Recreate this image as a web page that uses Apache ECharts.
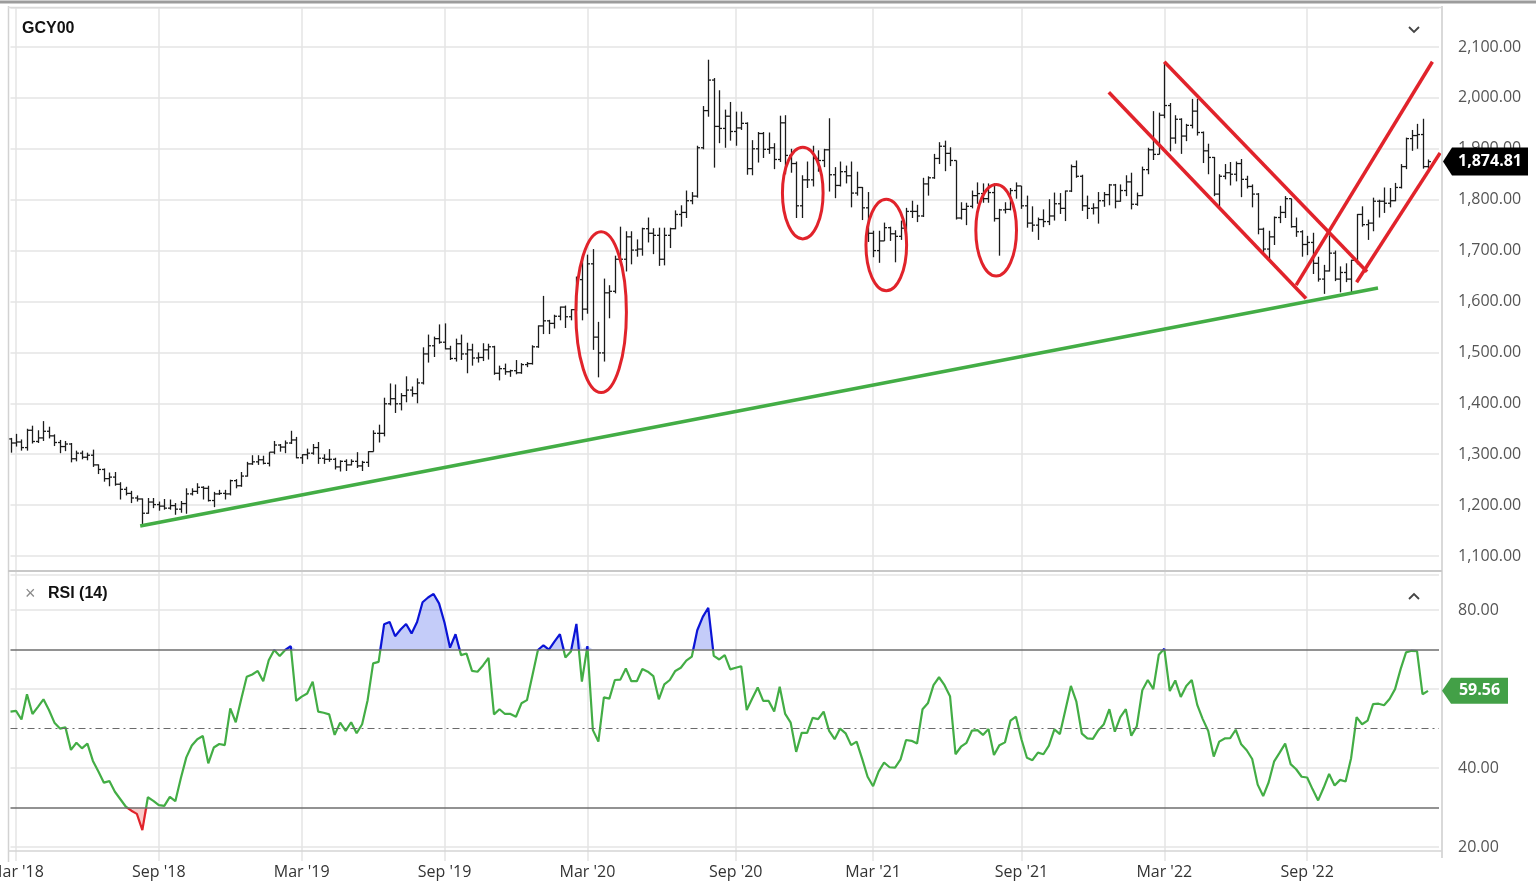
<!DOCTYPE html>
<html>
<head>
<meta charset="utf-8">
<title>GCY00 weekly with RSI (14)</title>
<script src="https://cdn.jsdelivr.net/npm/echarts@6/dist/echarts.min.js"></script>
<style>
  html, body { margin: 0; padding: 0; background: #fff; }
  #chart { width: 1536px; height: 889px; }
</style>
</head>
<body>
<div id="chart"></div>
<script>
// weekly bars, the first one is the week of 26 Feb 2018
const firstWeek = Date.UTC(2018, 1, 26);
const slotCount = 261; // 259 weeks + 2 empty slots on the right
const tickMonths = [2, 8]; // Mar, Sep
const monthNames = ['Jan', 'Feb', 'Mar', 'Apr', 'May', 'Jun', 'Jul', 'Aug', 'Sep', 'Oct', 'Nov', 'Dec'];

const opens = [
  1330, 1322, 1324, 1313, 1347, 1325, 1332, 1345, 1336, 1323,
  1315, 1320, 1291, 1302, 1294, 1298, 1279, 1270, 1252, 1255,
  1241, 1231, 1223, 1214, 1212, 1184, 1206, 1201, 1198, 1194,
  1199, 1192, 1203, 1222, 1227, 1235, 1233, 1209, 1222, 1223,
  1222, 1248, 1238, 1257, 1281, 1285, 1289, 1282, 1304, 1318,
  1314, 1322, 1328, 1293, 1299, 1302, 1313, 1292, 1290, 1290,
  1275, 1286, 1279, 1286, 1277, 1284, 1305, 1341, 1341, 1399,
  1409, 1399, 1415, 1426, 1419, 1440, 1497, 1513, 1527, 1520,
  1507, 1488, 1517, 1497, 1505, 1489, 1490, 1505, 1511, 1459,
  1468, 1462, 1464, 1460, 1476, 1478, 1511, 1552, 1562, 1557,
  1571, 1589, 1570, 1584, 1643, 1585, 1674, 1530, 1499, 1617,
  1620, 1683, 1683, 1727, 1701, 1703, 1743, 1734, 1730, 1683,
  1730, 1743, 1771, 1775, 1798, 1807, 1902, 1975, 2035, 1944,
  1940, 1964, 1934, 1941, 1950, 1861, 1900, 1930, 1899, 1902,
  1879, 1951, 1887, 1871, 1788, 1839, 1839, 1881, 1877, 1898,
  1849, 1828, 1855, 1847, 1813, 1824, 1784, 1734, 1700, 1719,
  1745, 1733, 1728, 1744, 1777, 1777, 1768, 1831, 1843, 1881,
  1905, 1891, 1877, 1764, 1781, 1787, 1808, 1812, 1802, 1814,
  1763, 1780, 1781, 1818, 1827, 1788, 1754, 1750, 1761, 1757,
  1768, 1792, 1783, 1817, 1865, 1846, 1788, 1783, 1784, 1798,
  1810, 1829, 1797, 1818, 1835, 1791, 1808, 1859, 1898, 1889,
  1966, 1985, 1921, 1958, 1925, 1946, 1974, 1932, 1896, 1883,
  1811, 1846, 1853, 1850, 1871, 1840, 1826, 1811, 1742, 1703,
  1727, 1765, 1775, 1802, 1747, 1737, 1712, 1716, 1675, 1644,
  1660, 1695, 1644, 1657, 1644, 1681, 1771, 1751, 1754, 1797,
  1797, 1793, 1798, 1824, 1865, 1920, 1926, 1928, 1865
];
const highs = [
  1332, 1340, 1329, 1350, 1356, 1347, 1365, 1354, 1339, 1328,
  1326, 1322, 1307, 1307, 1303, 1309, 1280, 1272, 1264, 1265,
  1245, 1236, 1228, 1219, 1213, 1214, 1214, 1207, 1212, 1211,
  1204, 1208, 1233, 1233, 1243, 1237, 1238, 1226, 1230, 1230,
  1250, 1251, 1265, 1285, 1298, 1298, 1297, 1304, 1326, 1320,
  1327, 1346, 1334, 1300, 1311, 1320, 1324, 1300, 1310, 1293,
  1288, 1290, 1290, 1304, 1287, 1306, 1347, 1358, 1411, 1439,
  1437, 1420, 1453, 1433, 1449, 1510, 1535, 1531, 1555, 1557,
  1513, 1527, 1535, 1519, 1517, 1500, 1518, 1517, 1513, 1474,
  1478, 1466, 1485, 1479, 1481, 1514, 1553, 1611, 1564, 1574,
  1590, 1592, 1585, 1649, 1689, 1692, 1703, 1560, 1645, 1632,
  1690, 1747, 1738, 1738, 1722, 1745, 1765, 1744, 1745, 1745,
  1745, 1779, 1789, 1818, 1815, 1906, 1984, 2075, 2039, 2015,
  1977, 1992, 1973, 1973, 1952, 1917, 1933, 1933, 1932, 1911,
  1965, 1966, 1900, 1875, 1848, 1875, 1906, 1897, 1900, 1960,
  1864, 1875, 1867, 1875, 1855, 1825, 1815, 1739, 1739, 1755,
  1747, 1740, 1759, 1784, 1798, 1790, 1843, 1846, 1890, 1913,
  1916, 1903, 1877, 1795, 1794, 1818, 1834, 1832, 1832, 1832,
  1782, 1795, 1823, 1834, 1827, 1808, 1787, 1765, 1781, 1801,
  1814, 1813, 1818, 1869, 1877, 1849, 1808, 1793, 1815, 1815,
  1831, 1831, 1830, 1848, 1853, 1814, 1865, 1902, 1974, 1971,
  2070, 1990, 1966, 1960, 1949, 1998, 1998, 1934, 1910, 1884,
  1850, 1870, 1874, 1875, 1880, 1847, 1830, 1813, 1745, 1739,
  1767, 1788, 1807, 1802, 1765, 1740, 1729, 1735, 1688, 1672,
  1730, 1700, 1669, 1675, 1682, 1772, 1787, 1761, 1804, 1800,
  1824, 1823, 1833, 1870, 1922, 1937, 1949, 1959, 1879
];
const lows = [
  1303, 1315, 1307, 1307, 1321, 1322, 1326, 1331, 1316, 1302,
  1306, 1284, 1286, 1290, 1288, 1275, 1261, 1246, 1237, 1238,
  1211, 1219, 1204, 1207, 1160, 1183, 1194, 1189, 1191, 1191,
  1181, 1185, 1183, 1219, 1222, 1211, 1207, 1196, 1220, 1211,
  1219, 1233, 1236, 1256, 1279, 1279, 1280, 1276, 1300, 1305,
  1302, 1320, 1292, 1281, 1290, 1299, 1281, 1281, 1285, 1270,
  1266, 1267, 1278, 1273, 1267, 1275, 1305, 1323, 1335, 1396,
  1381, 1386, 1402, 1413, 1400, 1437, 1480, 1491, 1517, 1506,
  1485, 1482, 1485, 1459, 1474, 1480, 1483, 1486, 1456, 1445,
  1456, 1452, 1457, 1458, 1471, 1476, 1509, 1536, 1536, 1547,
  1563, 1548, 1563, 1581, 1563, 1576, 1505, 1451, 1482, 1567,
  1616, 1680, 1659, 1673, 1688, 1690, 1716, 1693, 1670, 1671,
  1705, 1742, 1747, 1764, 1791, 1804, 1899, 1963, 1863, 1911,
  1902, 1916, 1906, 1937, 1849, 1848, 1873, 1882, 1890, 1860,
  1874, 1850, 1853, 1764, 1764, 1823, 1826, 1855, 1864, 1816,
  1803, 1826, 1832, 1785, 1808, 1760, 1717, 1687, 1676, 1719,
  1719, 1677, 1721, 1731, 1764, 1756, 1766, 1808, 1841, 1870,
  1856, 1866, 1761, 1761, 1750, 1783, 1792, 1794, 1794, 1757,
  1690, 1773, 1779, 1802, 1782, 1745, 1737, 1721, 1746, 1750,
  1759, 1772, 1758, 1815, 1843, 1778, 1762, 1771, 1753, 1786,
  1789, 1783, 1796, 1807, 1781, 1788, 1807, 1850, 1878, 1889,
  1960, 1895, 1910, 1890, 1915, 1940, 1926, 1872, 1850, 1807,
  1786, 1840, 1828, 1836, 1805, 1822, 1785, 1732, 1697, 1680,
  1711, 1754, 1764, 1745, 1727, 1688, 1691, 1654, 1639, 1615,
  1659, 1640, 1618, 1638, 1616, 1673, 1747, 1721, 1738, 1765,
  1774, 1785, 1797, 1822, 1860, 1896, 1900, 1861, 1861
];
const closes = [
  1322, 1324, 1313, 1347, 1325, 1332, 1345, 1336, 1323, 1315,
  1320, 1291, 1302, 1294, 1298, 1279, 1270, 1252, 1255, 1241,
  1231, 1223, 1214, 1212, 1184, 1206, 1201, 1198, 1194, 1199,
  1192, 1203, 1222, 1227, 1235, 1233, 1209, 1222, 1223, 1222,
  1248, 1238, 1257, 1281, 1285, 1289, 1282, 1304, 1318, 1314,
  1322, 1328, 1293, 1299, 1302, 1313, 1292, 1290, 1290, 1275,
  1286, 1279, 1286, 1277, 1284, 1305, 1341, 1341, 1399, 1409,
  1399, 1415, 1426, 1419, 1440, 1497, 1513, 1527, 1520, 1507,
  1488, 1517, 1497, 1505, 1489, 1490, 1505, 1511, 1459, 1468,
  1462, 1464, 1460, 1476, 1478, 1511, 1552, 1562, 1557, 1571,
  1589, 1570, 1584, 1643, 1585, 1674, 1530, 1499, 1617, 1620,
  1683, 1683, 1727, 1701, 1703, 1743, 1734, 1730, 1683, 1730,
  1743, 1771, 1775, 1798, 1807, 1902, 1975, 2035, 1944, 1940,
  1964, 1934, 1941, 1950, 1861, 1900, 1930, 1899, 1902, 1879,
  1951, 1887, 1871, 1788, 1839, 1839, 1881, 1877, 1898, 1849,
  1828, 1855, 1847, 1813, 1824, 1784, 1734, 1700, 1719, 1745,
  1733, 1728, 1744, 1777, 1777, 1768, 1831, 1843, 1881, 1905,
  1891, 1877, 1764, 1781, 1787, 1808, 1812, 1802, 1814, 1763,
  1780, 1781, 1818, 1827, 1788, 1754, 1750, 1761, 1757, 1768,
  1792, 1783, 1817, 1865, 1846, 1788, 1783, 1784, 1798, 1810,
  1829, 1797, 1818, 1835, 1791, 1808, 1859, 1898, 1889, 1966,
  1985, 1921, 1958, 1925, 1946, 1974, 1932, 1896, 1883, 1811,
  1846, 1853, 1850, 1871, 1840, 1826, 1811, 1742, 1703, 1727,
  1765, 1775, 1802, 1747, 1737, 1712, 1716, 1675, 1644, 1660,
  1695, 1644, 1657, 1644, 1681, 1771, 1751, 1754, 1797, 1797,
  1793, 1798, 1824, 1865, 1920, 1926, 1928, 1865, 1874.81
];
const rsi = [
  54.3, 54.5, 52.3, 58.7, 53.7, 55.5, 57.4, 54.7, 51.5, 50.0,
  50.3, 44.6, 46.4, 45.0, 46.2, 41.8, 39.1, 36.3, 36.7, 34.0,
  32.1, 30.2, 29.2, 28.4, 24.3, 32.6, 31.7, 30.6, 30.4, 32.7,
  31.6, 37.4, 42.7, 45.7, 47.3, 48.1, 41.2, 45.2, 46.1, 45.8,
  55.1, 51.6, 57.5, 63.1, 63.7, 64.6, 62.0, 67.3, 69.9, 68.4,
  69.9, 70.9, 57.0, 58.1, 58.9, 61.9, 54.3, 54.0, 53.6, 48.4,
  51.5, 49.4, 51.6, 48.8, 51.1, 57.2, 66.5, 66.9, 76.4, 77.0,
  73.4, 75.1, 76.5, 74.1, 77.0, 82.0, 83.2, 84.1, 81.7, 76.8,
  70.5, 73.9, 68.6, 69.0, 64.6, 64.4, 66.0, 67.9, 53.6, 54.9,
  53.7, 53.7, 53.0, 56.4, 57.2, 63.5, 69.9, 71.1, 70.0, 72.0,
  73.9, 68.0, 69.5, 76.5, 61.9, 70.9, 49.6, 46.7, 57.9, 57.6,
  62.3, 62.4, 65.2, 62.0, 62.0, 65.1, 64.4, 63.3, 57.4, 61.2,
  62.3, 64.6, 65.4, 67.2, 68.2, 74.9, 78.3, 80.6, 68.4, 67.5,
  68.6, 65.0, 65.4, 65.8, 54.7, 57.6, 60.4, 57.0, 57.0, 54.3,
  60.6, 53.7, 51.5, 44.1, 48.9, 48.9, 52.7, 52.4, 54.3, 49.4,
  47.3, 50.0, 48.8, 45.8, 46.7, 42.4, 37.8, 35.4, 39.1, 41.4,
  40.2, 40.1, 42.2, 47.1, 46.9, 46.2, 54.9, 56.5, 61.0, 63.0,
  61.0, 58.2, 43.5, 45.4, 46.4, 49.5, 49.6, 48.4, 49.9, 43.3,
  45.8, 46.5, 52.0, 53.0, 47.3, 42.6, 42.0, 43.9, 43.5, 45.7,
  49.8, 48.6, 54.7, 60.8, 56.8, 48.7, 47.5, 47.4, 49.6, 51.1,
  54.9, 49.2, 52.9, 54.9, 48.2, 50.6, 59.7, 62.3, 60.0, 68.7,
  70.2, 59.5, 62.2, 58.0, 60.8, 62.3, 56.0, 52.4, 49.4, 42.9,
  46.7, 47.5, 47.6, 49.7, 46.0, 44.5, 42.3, 35.8, 32.9, 36.4,
  41.7, 43.9, 46.2, 41.0, 39.7, 37.8, 37.6, 34.6, 31.8, 35.0,
  38.5, 35.6, 37.0, 36.6, 42.5, 52.9, 51.1, 52.0, 56.2, 56.3,
  55.9, 57.5, 60.0, 65.0, 69.3, 69.7, 69.6, 58.7, 59.56
];

// hand-drawn annotations, in [week index, price]
const supportLine = [[23.6, 1159], [248.9, 1626.5]];
const channelLines = [
  [[210.0, 2071], [246.9, 1658.5]],
  [[199.9, 2011], [235.8, 1606]],
  [[234.0, 1632], [258.8, 2071]],
  [[245.0, 1637.7], [260.2, 1892]]
];
// circles: [centre week, centre price, half width in weeks, half height in price]
const circles = [
  [107.5, 1579, 4.6, 158],
  [144.2, 1813, 3.7, 90],
  [159.4, 1711, 3.7, 90],
  [179.4, 1740, 3.7, 90]
];

const rsiUpper = 70;
const rsiLower = 30;
const rsiMid = 50;

const weeks = [];
for (let i = 0; i < slotCount; i++) {
  weeks.push(new Date(firstWeek + i * 7 * 86400000).toISOString().slice(0, 10));
}

function isTickWeek(i) {
  if (i === 0 || i >= weeks.length) return false;
  const m = +weeks[i].slice(5, 7) - 1;
  const prev = +weeks[i - 1].slice(5, 7) - 1;
  return m !== prev && tickMonths.indexOf(m) >= 0;
}

function weekLabel(value, i) {
  if (!isTickWeek(i)) return '';
  const m = +value.slice(5, 7) - 1;
  return monthNames[m] + " '" + value.slice(2, 4);
}

function money(v) {
  const parts = v.toFixed(2).split('.');
  return parts[0].replace(/\B(?=(\d{3})+(?!\d))/g, ',') + '.' + parts[1];
}

const barColor = '#1b1b1b';
const red = '#e1232b';
const green = '#43ad45';
const gridColor = '#e4e4e4';
const labelFont = '"Open Sans", "Liberation Sans", sans-serif';
const headFont = '"Liberation Sans", Arial, sans-serif';

const gridLeft = 10.5;
const gridRight = 97;

function catAxis(gridIndex, showLabel) {
  return {
    type: 'category',
    gridIndex: gridIndex,
    data: weeks,
    boundaryGap: false,
    axisLine: { show: false },
    axisTick: { show: false },
    axisLabel: {
      show: showLabel,
      interval: function (i) { return isTickWeek(i); },
      formatter: weekLabel,
      color: '#333',
      fontFamily: labelFont,
      fontSize: 16,
      margin: 3,
      hideOverlap: false
    },
    splitLine: {
      show: true,
      interval: function (i) { return isTickWeek(i); },
      lineStyle: { color: gridColor, width: 1.5 }
    }
  };
}

function panel(top, height) {
  return {
    left: gridLeft, right: gridRight, top: top, height: height,
    containLabel: false, outerBoundsMode: 'none'
  };
}

const ohlcData = opens.map(function (o, i) {
  return [i, o, highs[i], lows[i], closes[i]];
});

function renderBar(params, api) {
  const i = api.value(0);
  const hi = api.coord([i, api.value(2)]);
  const lo = api.coord([i, api.value(3)]);
  const op = api.coord([i, api.value(1)]);
  const cl = api.coord([i, api.value(4)]);
  const x = Math.round(hi[0]) + 0.5;
  const style = { stroke: barColor, lineWidth: 1.3 };
  return {
    type: 'group',
    children: [
      { type: 'line', shape: { x1: x, y1: hi[1], x2: x, y2: lo[1] }, style: style },
      { type: 'line', shape: { x1: x - 2.5, y1: op[1], x2: x, y2: op[1] }, style: style },
      { type: 'line', shape: { x1: x, y1: cl[1], x2: x + 2.5, y2: cl[1] }, style: style }
    ]
  };
}

function renderCircle(params, api) {
  const c = api.coord([api.value(0), api.value(1)]);
  const s = api.size([api.value(2), api.value(3)]);
  return {
    type: 'ellipse',
    shape: { cx: c[0], cy: c[1], rx: s[0], ry: s[1] },
    style: { fill: 'none', stroke: red, lineWidth: 3 }
  };
}

function drawnLine(points, color) {
  return {
    type: 'line',
    xAxisIndex: 4,
    yAxisIndex: 0,
    data: points,
    symbol: 'none',
    silent: true,
    z: 5,
    lineStyle: { color: color, width: 3.5 }
  };
}

const option = {
  animation: false,
  backgroundColor: '#fff',
  grid: [
    panel(8, 548),
    panel(556, 19),
    panel(575, 272),
    panel(847, 14)
  ],
  xAxis: [
    catAxis(0, false),
    catAxis(1, false),
    catAxis(2, false),
    catAxis(3, true),
    { type: 'value', gridIndex: 0, min: 0, max: slotCount - 1, show: false }
  ],
  yAxis: [
    {
      type: 'value', gridIndex: 0, position: 'right',
      min: 1100, max: 2176.6, interval: 100,
      axisLine: { show: false }, axisTick: { show: false },
      axisLabel: {
        showMaxLabel: false, align: 'left', margin: 19,
        color: '#555', fontFamily: labelFont, fontSize: 16,
        formatter: money
      },
      splitLine: { lineStyle: { color: gridColor, width: 1.5 } }
    },
    {
      type: 'value', gridIndex: 2, position: 'right',
      min: 20, max: 88.9, interval: 20,
      axisLine: { show: false }, axisTick: { show: false },
      axisLabel: {
        showMaxLabel: false, align: 'left', margin: 19,
        color: '#555', fontFamily: labelFont, fontSize: 16,
        formatter: function (v) { return v.toFixed(2); }
      },
      splitLine: { lineStyle: { color: gridColor, width: 1.5 } }
    },
    { type: 'value', gridIndex: 1, min: 0, max: 1, show: false },
    { type: 'value', gridIndex: 3, min: 0, max: 1, show: false }
  ],
  visualMap: {
    type: 'piecewise',
    show: false,
    seriesIndex: 7,
    dimension: 1,
    pieces: [
      { lt: rsiLower, color: red },
      { gte: rsiLower, lte: rsiUpper, color: green },
      { gt: rsiUpper, color: '#0b14d6' }
    ]
  },
  series: [
    {
      type: 'custom',
      name: 'GCY00',
      xAxisIndex: 0, yAxisIndex: 0,
      renderItem: renderBar,
      encode: { x: 0, y: [1, 2, 3, 4] },
      data: ohlcData,
      z: 3
    },
    {
      type: 'custom',
      xAxisIndex: 4, yAxisIndex: 0,
      renderItem: renderCircle,
      data: circles,
      silent: true,
      z: 6
    },
    drawnLine(supportLine, green),
    drawnLine(channelLines[0], red),
    drawnLine(channelLines[1], red),
    drawnLine(channelLines[2], red),
    drawnLine(channelLines[3], red),
    {
      type: 'line',
      name: 'RSI (14)',
      xAxisIndex: 2, yAxisIndex: 1,
      data: rsi,
      symbol: 'none',
      z: 4,
      lineStyle: { width: 2.2 }
    },
    {
      type: 'line',
      xAxisIndex: 2, yAxisIndex: 1,
      data: rsi.map(function (v) { return Math.max(v, rsiUpper); }),
      symbol: 'none',
      silent: true,
      z: 2,
      lineStyle: { width: 0, opacity: 0 },
      areaStyle: { origin: rsiUpper, color: 'rgba(70, 95, 235, 0.45)' },
      markLine: {
        silent: true,
        symbol: 'none',
        label: { show: false },
        data: [
          { yAxis: rsiUpper, lineStyle: { color: '#6e6e6e', width: 1.6, type: 'solid' } },
          { yAxis: rsiLower, lineStyle: { color: '#6e6e6e', width: 1.6, type: 'solid' } },
          { yAxis: rsiMid, lineStyle: { color: '#6a6a6a', width: 1.2, type: [7, 4, 2, 4] } }
        ]
      }
    },
    {
      type: 'line',
      xAxisIndex: 2, yAxisIndex: 1,
      data: rsi.map(function (v) { return Math.min(v, rsiLower); }),
      symbol: 'none',
      silent: true,
      z: 2,
      lineStyle: { width: 0, opacity: 0 },
      areaStyle: { origin: rsiLower, color: 'rgba(235, 70, 70, 0.4)' }
    }
  ]
};

const chart = echarts.init(document.getElementById('chart'));
chart.setOption(option);

function tag(id, tipX, bodyX, right, y, half, fill, text) {
  return [
    {
      type: 'polygon', id: id + '-bg', z: 100,
      shape: { points: [[tipX, y], [bodyX, y - half], [right, y - half], [right, y + half], [bodyX, y + half]] },
      style: { fill: fill }
    },
    {
      type: 'text', id: id + '-tx', z: 101,
      x: (bodyX + right) / 2, y: y,
      style: {
        text: text, fill: '#fff', font: 'bold 16px ' + labelFont,
        textAlign: 'center', textVerticalAlign: 'middle', verticalAlign: 'middle'
      }
    }
  ];
}

function frameLine(id, x1, y1, x2, y2, color, width) {
  return {
    type: 'line', id: id, z: 50, silent: true,
    shape: { x1: x1, y1: y1, x2: x2, y2: y2 },
    style: { stroke: color, lineWidth: width }
  };
}

function headText(id, x, y, text, opts) {
  return {
    type: 'text', id: id, z: 60, x: x, y: y,
    style: Object.assign({
      text: text, fill: '#111', font: 'bold 16px ' + headFont,
      textVerticalAlign: 'middle', verticalAlign: 'middle'
    }, opts || {})
  };
}

const lastPriceY = chart.convertToPixel({ yAxisIndex: 0 }, closes[closes.length - 1]);
const lastRsiY = chart.convertToPixel({ yAxisIndex: 1 }, rsi[rsi.length - 1]);

chart.setOption({
  graphic: [
    frameLine('top', 0, 2, 1536, 2, '#9c9c9c', 3),
    frameLine('left', 8.5, 6, 8.5, 862, '#d2d2d2', 1.5),
    frameLine('right', 1442, 6, 1442, 858, '#cdcdcd', 1.5),
    frameLine('paneTop', 8, 7.5, 1442, 7.5, '#dadada', 1.5),
    frameLine('paneSplit', 8, 571, 1442, 571, '#c8c8c8', 2),
    frameLine('paneBottom', 8, 851, 1442, 851, '#d4d4d4', 1.5),
    headText('sym', 22, 29, 'GCY00'),
    headText('close', 25, 594, '\u00d7', { fill: '#8a8a8a', font: '18px ' + headFont }),
    headText('rsiName', 48, 594, 'RSI (14)'),
    {
      type: 'polyline', id: 'chevDown', z: 60,
      shape: { points: [[1409, 27], [1414, 32], [1419, 27]] },
      style: { fill: 'none', stroke: '#444', lineWidth: 1.8 }
    },
    {
      type: 'polyline', id: 'chevUp', z: 60,
      shape: { points: [[1409, 599], [1414, 594], [1419, 599]] },
      style: { fill: 'none', stroke: '#444', lineWidth: 1.8 }
    }
  ].concat(
    tag('priceTag', 1443, 1452, 1528, lastPriceY, 14, '#000', money(closes[closes.length - 1])),
    tag('rsiTag', 1442, 1451, 1508, lastRsiY, 13, '#43a047', rsi[rsi.length - 1].toFixed(2))
  )
});

window.addEventListener('resize', function () {
  chart.resize();
});
</script>
</body>
</html>
